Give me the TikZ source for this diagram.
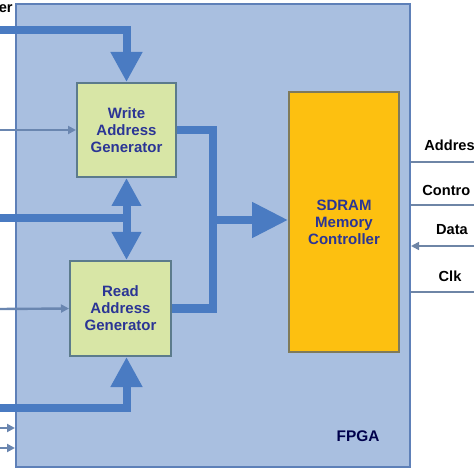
\documentclass[tikz,border=0pt]{standalone}
\usepackage{fontspec}
\setmainfont{Liberation Sans}
\usetikzlibrary{arrows.meta,calc,positioning}
\usepackage{xcolor}
\newcommand{\mypx}{0.5pt}
\definecolor{fpgablue}{HTML}{A9BFE0}
\definecolor{fpgaedge}{HTML}{5E80B8}
\definecolor{genfill}{HTML}{D8E6A6}
\definecolor{genedge}{HTML}{5C7B8C}
\definecolor{ctrlfill}{HTML}{FDC010}
\definecolor{ctrledge}{HTML}{7F7A5A}
\definecolor{busblue}{HTML}{4A7BC2}
\definecolor{wireblue}{HTML}{6A86B0}
\definecolor{txtblue}{HTML}{2B3595}
\tikzset{
    fpgasty/.style={draw=fpgaedge,fill=fpgablue,line width=1pt,rectangle,anchor=north west,
                    minimum width=394*\mypx,minimum height=463*\mypx},
    gensty/.style={draw=genedge,fill=genfill,line width=1pt,rectangle,align=center,
                   text=txtblue,font=\bfseries\fontsize{7.5}{8.5}\selectfont},
    ctrlsty/.style={draw=ctrledge,fill=ctrlfill,line width=1pt,rectangle,align=center,
                    minimum width=110*\mypx,minimum height=260*\mypx,
                    text=txtblue,font=\bfseries\fontsize{7.5}{8.5}\selectfont},
    bussty/.style={draw=busblue,line width=4pt},
    bigtip/.style={-{Triangle[length=15pt,width=15pt]}},
    bothtip/.style={{Triangle[length=14pt,width=14pt]}-{Triangle[length=14pt,width=14pt]}},
    wiresty/.style={draw=wireblue,line width=1.2pt,-{Triangle[length=4pt,width=4pt]}},
    sigsty/.style={draw=wireblue!80!gray,line width=0.8pt},
    lblsty/.style={font=\bfseries\fontsize{7.3}{9}\selectfont,text=black,inner sep=0pt},
}

\begin{document}
\begin{tikzpicture}[x=\mypx,y=-\mypx]
\useasboundingbox (0,0) rectangle (474,474);
\node[fpgasty] (fpga) at (15,3) {};
\node[font=\bfseries\fontsize{7.7}{9}\selectfont,text=black!70!blue] (fpgalbl) at (358,436) {FPGA};

\node[gensty,minimum width=99*\mypx,minimum height=94*\mypx] (wag) at (126.5,130) {Write\\Address\\Generator};
\node[gensty,minimum width=101*\mypx,minimum height=95*\mypx] (rag) at (120.5,308.5) {Read\\Address\\Generator};
\node[ctrlsty] (sdram) at (344,222) {SDRAM\\Memory\\Controller};

\coordinate (busa) at (0,30);
\coordinate (busb) at (0,218);
\coordinate (busc) at (0,408);
\coordinate (mrg) at (213,220);

\draw[bussty,bigtip] (busa) -| (wag.north);
\draw[bussty] (busb) -- (wag.south |- busb);
\draw[bussty,bothtip] (wag.south) -- (wag.south |- rag.north);
\draw[bussty,bigtip] (busc) -| (wag.south |- rag.south);
\draw[bussty,line join=miter] (wag.east) -| (mrg) |- (rag.east);
\draw[bussty,-{Triangle[length=18pt,width=17pt]}] (mrg) -- (mrg -| sdram.west);

\coordinate (wra) at (0,130);
\coordinate (wrb) at (0,309);
\coordinate (wrc) at (0,428);
\coordinate (wrd) at (0,448);
\draw[wiresty] (wra) -- (wag.west);
\draw[wiresty] (wrb) -- (rag.west);
\draw[wiresty] (wrc) -- (wrc -| fpga.west);
\draw[wiresty] (wrd) -- (wrd -| fpga.west);
\node[lblsty,anchor=east] (toplbl) at (13,9) {er};

\coordinate (sga) at (474,162);
\coordinate (sgb) at (474,205);
\coordinate (sgc) at (474,246);
\coordinate (sgd) at (474,292);
\draw[sigsty] (sga -| fpga.east) -- (sga);
\draw[sigsty] (sgb -| fpga.east) -- (sgb);
\draw[sigsty,-{Triangle[length=4pt,width=4pt]}] (sgc) -- (sgc -| fpga.east);
\draw[sigsty] (sgd -| fpga.east) -- (sgd);
\node[lblsty,anchor=west] (adrlbl) at (424,145) {Addres};
\node[lblsty,anchor=west] (ctllbl) at (422,190) {Contro};
\node[lblsty] (datlbl) at (452,230) {Data};
\node[lblsty] (clklbl) at (450,276) {Clk};
\end{tikzpicture}
\end{document}
